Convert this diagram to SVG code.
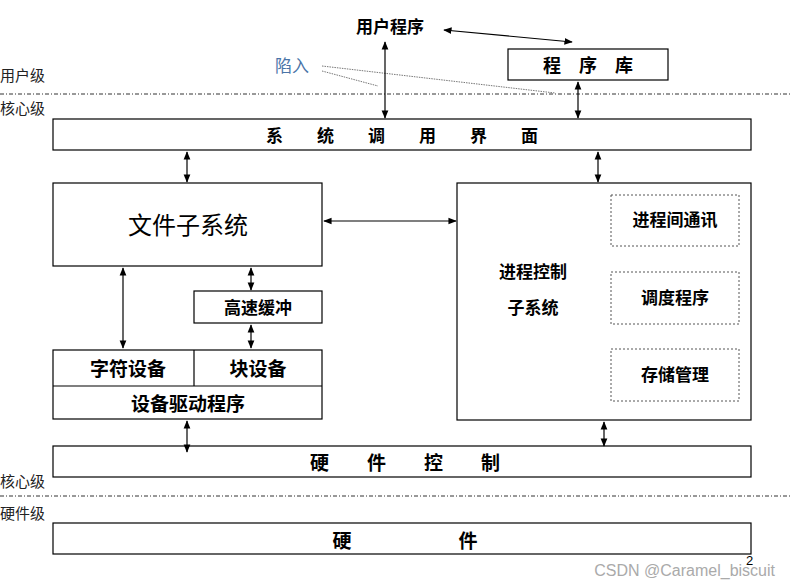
<svg xmlns="http://www.w3.org/2000/svg" width="791" height="586" viewBox="0 0 791 586">
<style>
.b{fill:#fff;stroke:#000;stroke-width:1.2}
.d{fill:#fff;stroke:#555;stroke-width:1;stroke-dasharray:2 2}
.t{font-family:"Liberation Sans","Noto Sans CJK SC",sans-serif;font-weight:bold;fill:#000;text-anchor:middle}
.l{font-family:"Liberation Sans","Noto Sans CJK SC",sans-serif;font-size:15px;fill:#222}
.a{stroke:#000;stroke-width:1.2;fill:none;marker-start:url(#h);marker-end:url(#h)}
</style>
<defs><marker id="h" viewBox="0 0 10 10" refX="9" refY="5" markerWidth="7" markerHeight="7" orient="auto-start-reverse"><path d="M0,1 L10,5 L0,9 z" fill="#000"/></marker></defs>
<rect width="791" height="586" fill="#fff"/>
<g id="levels">
<line x1="0" y1="94" x2="791" y2="94" stroke="#333" stroke-dasharray="4 2 1 2"/>
<line x1="0" y1="496" x2="791" y2="496" stroke="#333" stroke-dasharray="4 2 1 2"/>
<text class="l" x="0" y="81">用户级</text><text class="l" x="0" y="114">核心级</text>
<text class="l" x="0" y="487">核心级</text><text class="l" x="0" y="519">硬件级</text>
</g>
<g id="user"><text class="t" x="390" y="33" font-size="17">用户程序</text></g>
<g id="lib"><rect class="b" x="508" y="49" width="160" height="31"/><text class="t" x="588" y="72" font-size="18">程　序　库</text></g>
<g id="trap"><text x="292" y="72" font-family="Liberation Sans,Noto Sans CJK SC,sans-serif" font-size="17" fill="#4a74a8" text-anchor="middle">陷入</text></g>
<g id="syscall"><rect class="b" x="53" y="119" width="698" height="31"/><text class="t" x="402" y="142" font-size="17">系　　统　　调　　用　　界　　面</text></g>
<g id="fs"><rect class="b" x="53" y="183" width="269" height="83"/><text class="t" x="188" y="234" font-size="24" style="font-weight:normal">文件子系统</text></g>
<g id="cache"><rect class="b" x="194" y="291" width="128" height="32"/><text class="t" x="258" y="314" font-size="17">高速缓冲</text></g>
<g id="dev"><rect class="b" x="53" y="350" width="269" height="69"/><line x1="53" y1="386" x2="322" y2="386" stroke="#000" stroke-width="1.2"/><line x1="194" y1="350" x2="194" y2="386" stroke="#000" stroke-width="1.2"/>
<text class="t" x="128" y="376" font-size="19">字符设备</text><text class="t" x="258" y="376" font-size="19">块设备</text><text class="t" x="188" y="411" font-size="19">设备驱动程序</text></g>
<g id="proc"><rect class="b" x="457" y="183" width="294" height="237"/><text class="t" x="533" y="278" font-size="17">进程控制</text><text class="t" x="533" y="314" font-size="17">子系统</text></g>
<g id="ipc"><rect class="d" x="611" y="195" width="128" height="51"/><text class="t" x="675" y="226" font-size="17">进程间通讯</text></g>
<g id="sched"><rect class="d" x="611" y="272" width="128" height="52"/><text class="t" x="675" y="304" font-size="17">调度程序</text></g>
<g id="mem"><rect class="d" x="611" y="349" width="128" height="52"/><text class="t" x="675" y="381" font-size="17">存储管理</text></g>
<g id="hwctl"><rect class="b" x="53" y="446" width="698" height="31"/><text class="t" x="405" y="470" font-size="19">硬　　件　　控　　制</text></g>
<g id="hw"><rect class="b" x="53" y="523" width="698" height="31"/><text class="t" x="342" y="548" font-size="19">硬</text><text class="t" x="468" y="548" font-size="19">件</text></g>
<g id="connectors">
<line class="a" x1="444" y1="30" x2="572" y2="42"/>
<line x1="322" y1="66" x2="555" y2="93" stroke="#777" stroke-dasharray="1.5 1"/>
<line x1="322" y1="71" x2="378" y2="86" stroke="#777" stroke-dasharray="1.5 1"/>
<line class="a" x1="385" y1="42" x2="385" y2="118"/>
<line class="a" x1="578" y1="82" x2="578" y2="118"/>
<line class="a" x1="187" y1="152" x2="187" y2="182"/>
<line class="a" x1="598" y1="152" x2="598" y2="182"/>
<line class="a" x1="324" y1="221" x2="456" y2="221"/>
<line class="a" x1="251" y1="268" x2="251" y2="290"/>
<line class="a" x1="123" y1="268" x2="123" y2="348"/>
<line class="a" x1="251" y1="325" x2="251" y2="348"/>
<line class="a" x1="187" y1="421" x2="187" y2="452"/>
<line class="a" x1="604" y1="422" x2="604" y2="446"/>
</g>
<text x="746" y="565" font-family="Liberation Sans,sans-serif" font-size="13" fill="#000">2</text>
<text x="775" y="576" font-family="Liberation Sans,sans-serif" font-size="16" fill="#aaa" text-anchor="end">CSDN @Caramel_biscuit</text>
</svg>
